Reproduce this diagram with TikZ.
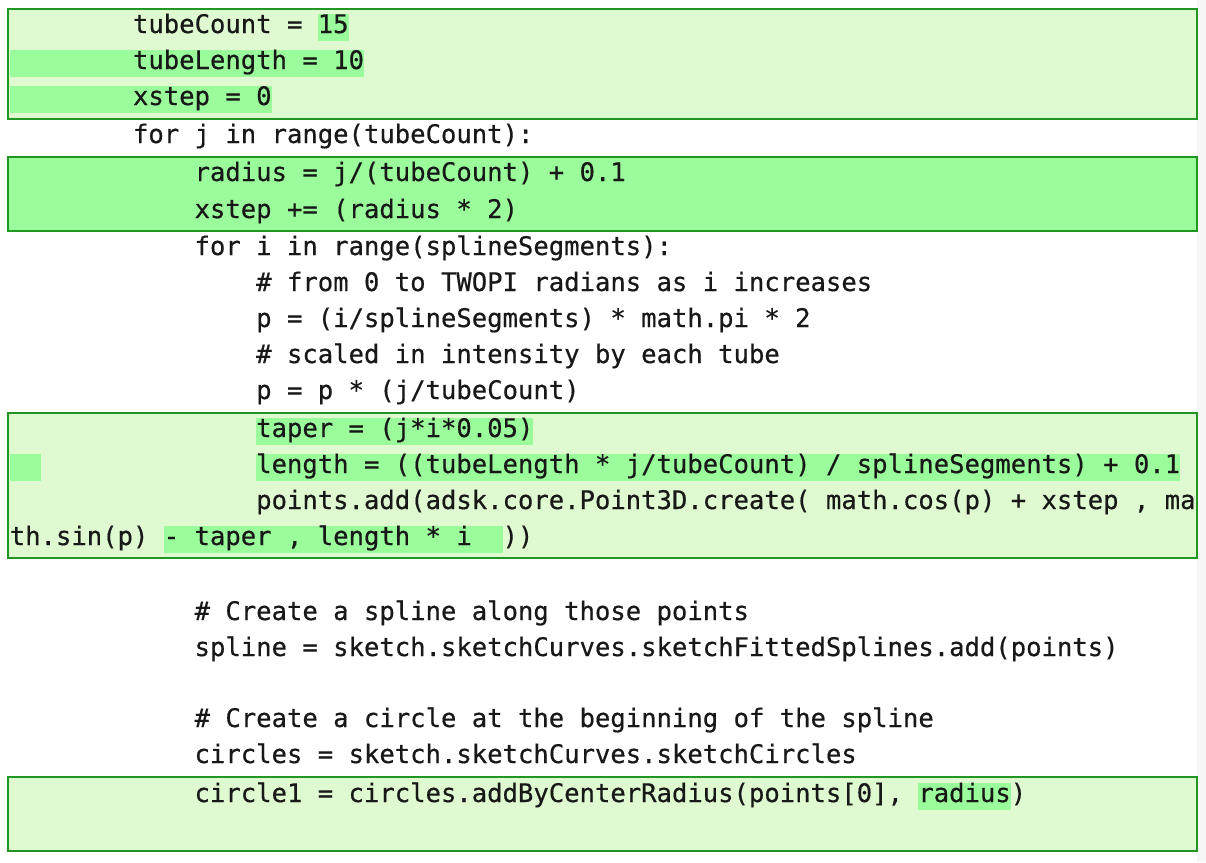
\documentclass[tikz,border=0pt]{standalone}
\usepackage{fontspec}
\newfontfamily\codefont{DejaVu Sans Mono}[FakeBold=0.5]
\definecolor{hidark}{RGB}{154,252,154}
\definecolor{hilite}{RGB}{223,250,208}
\definecolor{boxline}{RGB}{34,150,34}
\definecolor{codeink}{RGB}{24,24,24}
\definecolor{sidestrip}{RGB}{246,246,246}
\tikzset{
  code/.style={anchor=base west, inner sep=0pt, outer sep=0pt, text=codeink,
    font=\codefont\fontsize{25.58}{30}\selectfont\frenchspacing},
  diffbox/.style={draw=boxline, line width=2.6pt},
}
\newcommand\colx[1]{{9.8+#1*15.4}}
\begin{document}
\begin{tikzpicture}[x=1pt,y=-1pt]
\fill[white] (0,0) rectangle (1206,862);
\useasboundingbox (0,0) rectangle (1206,862);
\fill[sidestrip] (1197,0) rectangle (1206,862);

% box 1
\fill[hilite] (8,9) rectangle (1197,119);
\fill[hidark] (\colx{20},14) rectangle (\colx{22},41);
\fill[hidark] (10,50) rectangle (\colx{23},77);
\fill[hidark] (10,86) rectangle (\colx{17},113);
\draw[diffbox] (8,9) rectangle (1197,119);

% box 2
\fill[hidark] (8,157) rectangle (1197,231);
\draw[diffbox] (8,157) rectangle (1197,231);

% box 3
\fill[hilite] (8,413) rectangle (1197,558);
\fill[hidark] (\colx{16},418) rectangle (\colx{34},445);
\fill[hidark] (10,454) rectangle (\colx{2},481);
\fill[hidark] (\colx{16},454) rectangle (\colx{76},481);
\fill[hidark] (\colx{10},526) rectangle (\colx{32},553);
\draw[diffbox] (8,413) rectangle (1197,558);

% box 4
\fill[hilite] (8,777) rectangle (1197,851);
\fill[hidark] (\colx{59},783) rectangle (\colx{65},810);
\draw[diffbox] (8,777) rectangle (1197,851);

% code lines
\node[code] (l1)  at (\colx{8},33)  {tubeCount = 15};
\node[code] (l2)  at (\colx{8},69)  {tubeLength = 10};
\node[code] (l3)  at (\colx{8},105) {xstep = 0};
\node[code] (l4)  at (\colx{8},143) {for j in range(tubeCount):};
\node[code] (l5)  at (\colx{12},181) {radius = j/(tubeCount) + 0.1};
\node[code] (l6)  at (\colx{12},218) {xstep += (radius * 2)};
\node[code] (l7)  at (\colx{12},255) {for i in range(splineSegments):};
\node[code] (l8)  at (\colx{16},291) {\# from 0 to TWOPI radians as i increases};
\node[code] (l9)  at (\colx{16},327) {p = (i/splineSegments) * math.pi * 2};
\node[code] (l10) at (\colx{16},363) {\# scaled in intensity by each tube};
\node[code] (l11) at (\colx{16},399) {p = p * (j/tubeCount)};
\node[code] (l12) at (\colx{16},437) {taper = (j*i*0.05)};
\node[code] (l13) at (\colx{16},473) {length = ((tubeLength * j/tubeCount) / splineSegments) + 0.1};
\node[code] (l14) at (\colx{16},509) {points.add(adsk.core.Point3D.create( math.cos(p) + xstep , ma};
\node[code] (l15) at (\colx{0},545)  {th.sin(p) - taper , length * i\ \ ))};
\node[code] (l16) at (\colx{12},620) {\# Create a spline along those points};
\node[code] (l17) at (\colx{12},656) {spline = sketch.sketchCurves.sketchFittedSplines.add(points)};
\node[code] (l18) at (\colx{12},727) {\# Create a circle at the beginning of the spline};
\node[code] (l19) at (\colx{12},763) {circles = sketch.sketchCurves.sketchCircles};
\node[code] (l20) at (\colx{12},802) {circle1 = circles.addByCenterRadius(points[0], radius)};
\end{tikzpicture}
\end{document}
